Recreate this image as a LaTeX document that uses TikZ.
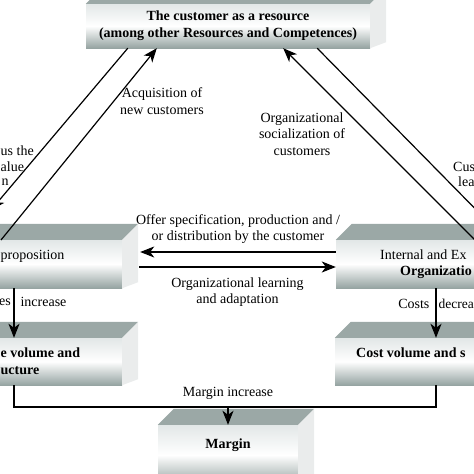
\documentclass[tikz,border=0pt]{standalone}
\usepackage{fontspec}
\setmainfont{Liberation Serif}
\usepackage{xcolor}
\usetikzlibrary{positioning, arrows.meta}

\definecolor{facetop}{RGB}{155,168,166}
\definecolor{faceside}{RGB}{234,236,236}
\definecolor{facelight}{RGB}{226,231,231}
\definecolor{facedark}{RGB}{150,164,162}

\begin{document}
\begin{tikzpicture}[
    x=1pt, y=-1pt,
    block/.style={
        rectangle,
        minimum width=#1,
        minimum height=48pt,
        inner sep=0pt,
        top color=facelight,
        bottom color=facedark,
        middle color=white,
        align=center,
        font=\fontsize{14}{17}\selectfont\bfseries
    },
    lbl/.style={
        inner sep=0pt,
        align=center,
        font=\fontsize{14}{16.5}\selectfont
    },
    bold/.style={
        lbl,
        font=\fontsize{14}{17}\selectfont\bfseries
    },
    link/.style={
        line width=1.2pt
    },
    arrow/.style={
        line width=1.2pt,
        -{Stealth[length=14pt, width=11pt, inset=4pt]}
    }
]

\useasboundingbox (0,0) rectangle (474,474);
\clip (0,0) rectangle (474,474);

% front faces
\node[block=284pt, minimum height=44pt] (top) at (228,26) {The customer as a resource\\(among other Resources and Competences)};
\node[block=216pt] (val) at (14,264) {};
\node[block=200pt] (org) at (436,264) {};
\node[block=216pt, minimum height=47pt] (rev) at (14,361.5) {};
\node[block=202pt, minimum height=47pt] (cost) at (436,361.5) {};
\node[block=140pt, minimum height=60pt] (margin) at (228,455) {};

% top and side faces
\foreach \b in {top,val,org,rev,cost,margin} {
    \fill[facetop] (\b.north west) -- ++(16,-16) -- ([shift={(16,-16)}]\b.north east) -- (\b.north east) -- cycle;
    \fill[faceside] (\b.north east) -- ++(16,-16) -- ([shift={(16,-6)}]\b.south east) -- (\b.south east) -- cycle;
}

% box texts
\node[lbl, anchor=west] (valtxt) at (0.5,256) {proposition};
\node[lbl, anchor=west] (orgtxt) at (380,255) {Internal and Ex};
\node[bold, anchor=west] (orgtxtb) at (400,272) {Organizatio};
\node[bold, anchor=west] (revtxt) at (0.5,353) {e volume and};
\node[bold, anchor=west] (revtxtb) at (0.5,371) {ucture};
\node[bold, anchor=west] (costtxt) at (356,353) {Cost volume and s};
\node[bold] (margintxt) at (228,445) {Margin};

% links to the customer resource
\coordinate (lout) at (-9,210);
\coordinate (lin) at (1,240);
\coordinate (rin) at (480,245);
\coordinate (rout) at (500,234);

\draw[arrow] ([xshift=42pt]top.south west) -- (lout);
\draw[arrow] (lin) -- ([xshift=71pt]top.south west);
\draw[arrow] (rin) -- ([xshift=-87pt]top.south east);
\draw[arrow] ([xshift=-53pt]top.south east) -- (rout);

\node[lbl] (acq) at (162,101) {Acquisition of\\new customers};
\node[lbl] (soc) at (302,134) {Organizational\\socialization of\\customers};
\node[lbl, anchor=west] (cocl1) at (0.5,151) {us the};
\node[lbl, anchor=west] (cocl2) at (0.5,167) {alue};
\node[lbl, anchor=west] (cocl3) at (1.5,182) {n};
\node[lbl, anchor=west] (cusl1) at (453,167) {Cus};
\node[lbl, anchor=west] (cusl2) at (458,182) {lea};

% exchange between proposition and organization
\draw[arrow] ([yshift=12pt]org.west) -- node[lbl, above=7.5pt]{Offer specification, production and /\\or distribution by the customer} ([xshift=18pt,yshift=12pt]val.east);
\draw[arrow] ([xshift=17pt,yshift=-3pt]val.east) -- node[lbl, below=10pt]{Organizational learning\\and adaptation} ([yshift=-3pt]org.west);

% volumes
\draw[arrow] (val) -- node[lbl, pos=0.28, left=2.5pt]{es} node[lbl, pos=0.28, right=6pt]{increase} (rev);
\draw[arrow] (org) -- node[lbl, pos=0.32, left=6pt]{Costs} node[lbl, pos=0.32, right=2pt, font=\fontsize{13.5}{16}\selectfont]{decrea} (cost);

% margin
\coordinate (join) at (228,407);
\draw[link] (rev) |- (join) -| (cost);
\draw[arrow] (join) -- (margin);
\node[lbl, above=7pt of join] (minc) {Margin increase};

\end{tikzpicture}
\end{document}
